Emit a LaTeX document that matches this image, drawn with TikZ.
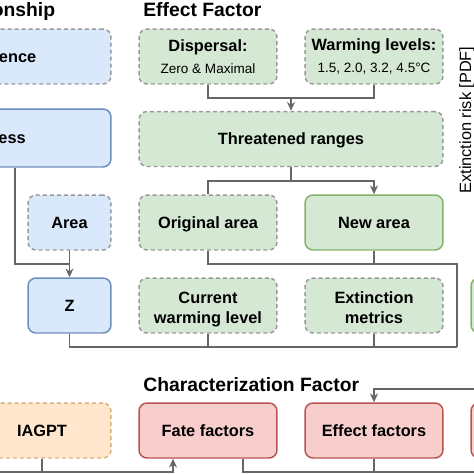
\documentclass[tikz,border=0pt]{standalone}
\usepackage{fontspec}
\setmainfont{Liberation Sans}
\usetikzlibrary{arrows.meta}
\definecolor{sarfill}{HTML}{DAE8FC}
\definecolor{sarline}{HTML}{6C8EBF}
\definecolor{effill}{HTML}{D5E8D4}
\definecolor{efline}{HTML}{82B366}
\definecolor{cffill}{HTML}{F8CECC}
\definecolor{cfline}{HTML}{B85450}
\definecolor{iafill}{HTML}{FFE6CC}
\definecolor{ialine}{HTML}{D7B27E}
\definecolor{dashline}{HTML}{999999}
\definecolor{connline}{HTML}{666666}
\tikzset{
  box/.style={rounded corners=0.16cm, line width=0.85pt, inner sep=0pt, align=center,
    minimum width=2.76cm, minimum height=1.1cm, font=\fontsize{9.3}{11.4}\selectfont\bfseries},
  oneline/.style={text height=8.8pt, text depth=2.3pt},
  twoline/.style={text height=20.5pt, text depth=0pt},
  dashbox/.style={box, draw=dashline, dash pattern=on 2.3pt off 1.7pt},
  sarbox/.style={box, draw=sarline, fill=sarfill},
  sardash/.style={dashbox, fill=sarfill},
  efbox/.style={box, draw=efline, fill=effill},
  efdash/.style={dashbox, fill=effill},
  cfbox/.style={box, draw=cfline, fill=cffill},
  iadash/.style={dashbox, draw=ialine, fill=iafill},
  widebox/.style={minimum width=6.08cm},
  narrowbox/.style={minimum width=1.66cm},
  title/.style={anchor=base west, inner sep=0pt, font=\fontsize{11}{13}\selectfont\bfseries},
}
\begin{document}
\begin{tikzpicture}[x=0.02cm, y=-0.02cm]
      \useasboundingbox (0,0) rectangle (474,474);
      \clip (0,0) rectangle (474,474);
      \node[title] (sartitle) at (-189,16.5) {Species-Area Relationship};
      \node[title] (eftitle) at (143,16.5) {Effect Factor};
      \node[title] (cftitle) at (143,391) {Characterization Factor};
      \node[rotate=90, anchor=base, inner sep=0pt, font=\fontsize{9.3}{11}\selectfont] (risk) at (471,120) {Extinction risk [PDF]};

      \node[sardash, widebox, oneline] (occ) at (-41,56.5) {Species occurrence};
      \node[sarbox, widebox, oneline, minimum height=1.16cm] (rich) at (-41,138) {Species richness};
      \node[sardash, narrowbox, oneline] (area) at (69.5,222.5) {Area};
      \node[sarbox, narrowbox, oneline] (z) at (69.5,305.5) {Z};

      \node[efdash] (disp) at (208,56.5) {Dispersal:\\[1pt]{\mdseries\fontsize{7.7}{9}\selectfont Zero \& Maximal}};
      \node[efdash] (warm) at (374,56.5) {Warming levels:\\[1pt]{\mdseries\fontsize{7.7}{9}\selectfont 1.5, 2.0, 3.2, 4.5°C}};
      \node[efdash, widebox, oneline] (threat) at (291,139) {Threatened ranges};
      \node[efdash, oneline] (orig) at (208,222.5) {Original area};
      \node[efbox, oneline] (new) at (374,222.5) {New area};
      \node[efdash, twoline] (cur) at (208,305.5) {Current\\warming level};
      \node[efdash, twoline] (ext) at (374,305.5) {Extinction\\metrics};
      \node[efbox] (riskplot) at (540,305.5) {};

      \node[iadash, oneline] (iagpt) at (42,430.5) {IAGPT};
      \node[cfbox, oneline] (fate) at (208,430.5) {Fate factors};
      \node[cfbox, oneline] (efffac) at (374,430.5) {Effect factors};
      \node[cfbox] (impact) at (540,430.5) {};

      \begin{scope}[draw=connline, line width=0.85pt, >={Stealth[length=5pt,width=4.5pt]}]
        \coordinate (j1) at (291,98);
        \draw (disp.south) |- (j1);
        \draw (warm.south) |- (j1);
        \draw[->] (j1) -- (threat.north);
        \coordinate (j2) at (291,181);
        \draw (threat.south) -- (j2);
        \draw (j2) -| (orig.north);
        \draw[->] (j2) -| (new.north);
        \coordinate (j3) at (15,264);
        \draw (rich.south -| j3) |- (area.south |- j3);
        \draw[->] (area) -- (z);
        \coordinate (k1) at (457,264);
        \coordinate (k2) at (457,347);
        \draw (orig.south) |- (k1) -- (k2);
        \draw (new.south) -- (new.south |- k1);
        \draw (z.south) |- (k2);
        \draw (cur.south) -- (cur.south |- k2);
        \draw (ext.south) -- (ext.south |- k2);
        \coordinate (m1) at (490,389);
        \draw[->] (m1) -| (efffac.north);
        \coordinate (b0) at (-20,472);
        \coordinate (b1) at (490,472);
        \draw (iagpt.south) -- (iagpt.south |- b0);
        \draw[->] (b0) -| ([xshift=-0.7cm]fate.south);
        \draw ([xshift=0.7cm]fate.south) |- (b1);
        \draw (efffac.south) -- (efffac.south |- b1);
      \end{scope}
    \end{tikzpicture}
\end{document}
